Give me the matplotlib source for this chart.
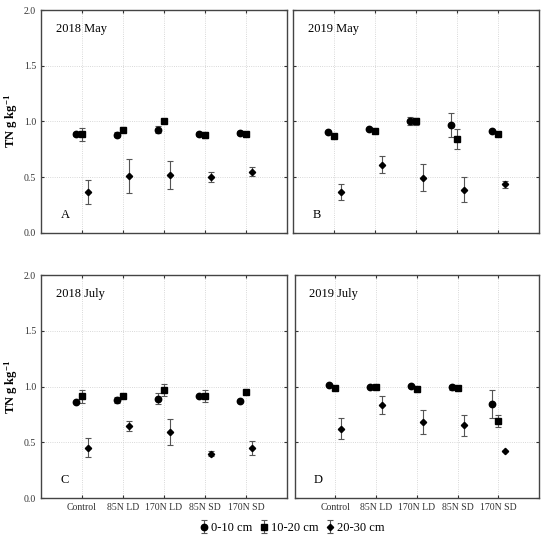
import matplotlib.pyplot as plt
import numpy as np

plt.rcParams['font.family'] = ['Liberation Serif', 'DejaVu Serif']
plt.rcParams['mathtext.default'] = 'regular'

treatments = ['Control', '85N LD', '170N LD', '85N SD', '170N SD']
depths = ['0-10 cm', '10-20 cm', '20-30 cm']

# panel A - 2018 May
may18_d1 = [0.886, 0.880, 0.925, 0.886, 0.895]
may18_d1_err = [0.02, 0.02, 0.03, 0.015, 0.02]
may18_d2 = [0.883, 0.925, 1.000, 0.877, 0.883]
may18_d2_err = [0.055, 0.02, 0.0, 0.03, 0.0]
may18_d3 = [0.365, 0.509, 0.518, 0.500, 0.548]
may18_d3_err = [0.11, 0.15, 0.13, 0.045, 0.04]

# panel B - 2019 May
may19_d1 = [0.904, 0.931, 1.003, 0.967, 0.916]
may19_d1_err = [0.0, 0.0, 0.04, 0.105, 0.0]
may19_d2 = [0.865, 0.910, 1.000, 0.841, 0.883]
may19_d2_err = [0.0, 0.0, 0.03, 0.09, 0.0]
may19_d3 = [0.365, 0.611, 0.494, 0.386, 0.434]
may19_d3_err = [0.075, 0.075, 0.12, 0.11, 0.033]

# panel C - 2018 July
jul18_d1 = [0.862, 0.883, 0.892, 0.916, 0.871]
jul18_d1_err = [0.0, 0.025, 0.05, 0.0, 0.0]
jul18_d2 = [0.916, 0.913, 0.970, 0.916, 0.952]
jul18_d2_err = [0.058, 0.015, 0.055, 0.055, 0.0]
jul18_d3 = [0.455, 0.644, 0.593, 0.401, 0.449]
jul18_d3_err = [0.085, 0.045, 0.115, 0.02, 0.06]

# panel D - 2019 July
jul19_d1 = [1.015, 0.997, 1.006, 0.994, 0.844]
jul19_d1_err = [0.0, 0.0, 0.0, 0.025, 0.125]
jul19_d2 = [0.991, 0.997, 0.976, 0.985, 0.692]
jul19_d2_err = [0.0, 0.0, 0.02, 0.0, 0.05]
jul19_d3 = [0.623, 0.835, 0.683, 0.653, 0.428]
jul19_d3_err = [0.095, 0.077, 0.105, 0.096, 0.0]

panels = [
    ('2018 May', 'A', [0.0745, 0.5707, 0.447, 0.4108],
     [(may18_d1, may18_d1_err), (may18_d2, may18_d2_err), (may18_d3, may18_d3_err)]),
    ('2019 May', 'B', [0.5336, 0.5707, 0.447, 0.4108],
     [(may19_d1, may19_d1_err), (may19_d2, may19_d2_err), (may19_d3, may19_d3_err)]),
    ('2018 July', 'C', [0.0745, 0.0806, 0.447, 0.412],
     [(jul18_d1, jul18_d1_err), (jul18_d2, jul18_d2_err), (jul18_d3, jul18_d3_err)]),
    ('2019 July', 'D', [0.5355, 0.0806, 0.445, 0.412],
     [(jul19_d1, jul19_d1_err), (jul19_d2, jul19_d2_err), (jul19_d3, jul19_d3_err)]),
]

markers = ['o', 's', 'D']
msizes = [4.6, 4.6, 3.2]
offsets = [-0.15, 0.0, 0.15]

fig = plt.figure(figsize=(5.5, 5.42), dpi=100)
x = np.arange(1, len(treatments) + 1)
handles = []

for i, (title, letter, pos, series) in enumerate(panels):
    ax = fig.add_axes(pos)
    for j, (vals, errs) in enumerate(series):
        h = ax.errorbar(x + offsets[j], vals, yerr=errs, fmt=markers[j], color='black',
                        ecolor='#555555', elinewidth=0.8, capsize=2, capthick=0.8,
                        markersize=msizes[j], label=depths[j])
        if i == 0:
            handles.append(h)
    ax.set_xlim(0, 6)
    ax.set_ylim(0, 2.0)
    ax.set_xticks(x)
    ax.set_yticks([0, 0.5, 1.0, 1.5, 2.0])
    ax.set_yticklabels(['0.0', '0.5', '1.0', '1.5', '2.0'])
    ax.grid(True, linestyle=':', color='#cccccc', linewidth=0.6)
    ax.set_axisbelow(True)
    ax.tick_params(direction='in', length=2.5, width=0.8, top=True, right=True,
                   labelsize=7, colors='#333333')
    for s in ax.spines.values():
        s.set_color('#444444')
        s.set_linewidth(1.0)
    if i >= 2:
        ax.set_xticklabels(treatments, fontsize=7)
    else:
        ax.set_xticklabels([])
    if i % 2 == 1:
        ax.set_yticklabels([])
    else:
        ax.set_ylabel('TN g kg$^{-1}$', fontsize=9, fontweight='bold')
        ax.yaxis.set_label_coords(-0.085, 0.5)
    ax.text(0.06, 0.915, title, transform=ax.transAxes, fontsize=9, va='center', ha='left')
    ax.text(0.08, 0.08, letter, transform=ax.transAxes, fontsize=9, va='center', ha='left')

fig.legend(handles=handles, labels=depths, loc='center', bbox_to_anchor=(0.53, 0.026),
           ncol=3, frameon=False, fontsize=9, handlelength=0.9, handletextpad=0.1,
           columnspacing=0.5)

fig.savefig('out.png', dpi=100)
